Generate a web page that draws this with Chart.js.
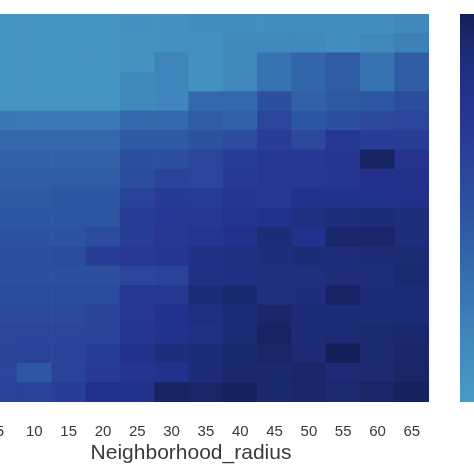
<!DOCTYPE html>
<html>
<head>
<meta charset="utf-8">
<script src="https://cdn.jsdelivr.net/npm/chart.js@4.4.1/dist/chart.umd.min.js"></script>
<style>
  html, body { margin: 0; padding: 0; background: #fff; overflow: hidden; }
  #wrap { width: 474px; height: 474px; position: relative; overflow: hidden; }
  #heat { position: absolute; left: -47px; top: 0; }
</style>
</head>
<body>
<div id="wrap"><canvas id="heat" width="521" height="474"></canvas></div>
<script>
/// data ///
const radius = [5, 10, 15, 20, 25, 30, 35, 40, 45, 50, 55, 60, 65];
const rowIds = [0, 1, 2, 3, 4, 5, 6, 7, 8, 9, 10, 11, 12, 13, 14, 15, 16, 17, 18, 19];
// one row per line, top row first, one value per radius
const values = [
  [ 5,  5,  5,  5,  8,  8, 10, 10, 10, 10, 10, 10, 15],
  [ 5,  5,  5,  5,  7,  8,  8, 15, 15, 15, 12, 16, 20],
  [ 5,  5,  5,  5,  7, 18,  8, 15, 30, 38, 44, 30, 44],
  [ 5,  5,  5,  5, 15, 18,  8, 15, 30, 38, 44, 30, 44],
  [ 5,  5,  5,  5, 15, 17, 36, 36, 52, 40, 46, 47, 54],
  [26, 25, 25, 25, 36, 36, 44, 40, 60, 48, 52, 58, 60],
  [36, 36, 36, 36, 45, 45, 50, 56, 66, 58, 72, 66, 66],
  [40, 40, 40, 40, 52, 52, 60, 67, 72, 71, 74, 96, 78],
  [44, 44, 44, 44, 56, 62, 60, 69, 73, 72, 75, 80, 80],
  [45, 45, 48, 48, 62, 69, 68, 75, 73, 81, 81, 81, 82],
  [48, 48, 48, 48, 67, 71, 72, 77, 81, 85, 88, 90, 88],
  [50, 50, 50, 56, 66, 73, 76, 80, 90, 81, 94, 94, 88],
  [52, 52, 56, 66, 70, 74, 84, 85, 88, 90, 88, 90, 91],
  [53, 53, 53, 53, 60, 62, 84, 85, 87, 87, 89, 89, 92],
  [55, 55, 55, 55, 73, 72, 90, 93, 87, 88, 96, 90, 90],
  [57, 57, 57, 61, 73, 81, 86, 90, 94, 90, 90, 90, 90],
  [60, 60, 60, 61, 75, 81, 84, 91, 96, 90, 91, 92, 93],
  [61, 62, 62, 66, 81, 88, 90, 93, 95, 91, 99, 92, 94],
  [60, 47, 62, 69, 78, 81, 90, 93, 93, 94, 91, 92, 95],
  [62, 62, 66, 81, 81, 96, 95, 98, 93, 94, 92, 95, 98]
];

/// colour map (light blue -> navy) ///
const cmap = [
  [0.00, [72, 154, 197]],
  [0.15, [65, 136, 188]],
  [0.30, [55, 114, 177]],
  [0.45, [46, 90, 164]],
  [0.60, [42, 69, 153]],
  [0.72, [38, 55, 146]],
  [0.82, [34, 48, 138]],
  [0.90, [30, 44, 119]],
  [1.00, [17, 31, 87]]
];
function colorFor(v) {
  const t = Math.max(0, Math.min(1, v / 100));
  for (let i = 1; i < cmap.length; i++) {
    if (t <= cmap[i][0]) {
      const [t0, c0] = cmap[i - 1];
      const [t1, c1] = cmap[i];
      const f = (t - t0) / (t1 - t0);
      const c = c0.map((a, k) => Math.round(a + (c1[k] - a) * f));
      return 'rgb(' + c.join(',') + ')';
    }
  }
  return 'rgb(' + cmap[cmap.length - 1][1].join(',') + ')';
}

const points = [];
values.forEach((row, r) => {
  row.forEach((v, c) => {
    points.push({ x: radius[c], y: [rowIds[r], rowIds[r] + 1], v: v });
  });
});

/// colour bar on the right ///
const colorbar = {
  id: 'colorbar',
  afterDraw(chart) {
    const { ctx, chartArea } = chart;
    const x = chartArea.right + 31;
    const g = ctx.createLinearGradient(0, chartArea.top, 0, chartArea.bottom);
    for (let i = 0; i <= 20; i++) g.addColorStop(i / 20, colorFor(100 - i * 5));
    ctx.save();
    ctx.fillStyle = g;
    ctx.fillRect(x, chartArea.top, 40, chartArea.bottom - chartArea.top);
    ctx.restore();
  }
};

const font = 'Liberation Sans, Arial, sans-serif';
const ctx = document.getElementById('heat').getContext('2d');
new Chart(ctx, {
  type: 'bar',
  data: {
    datasets: [{
      data: points,
      backgroundColor: c => colorFor(c.raw ? c.raw.v : 0),
      borderWidth: 0,
      barPercentage: 1,
      categoryPercentage: 1
    }]
  },
  options: {
    responsive: false,
    animation: false,
    layout: { padding: { top: 14, right: 45, left: 0, bottom: 0 } },
    plugins: { legend: { display: false }, tooltip: { enabled: false } },
    scales: {
      x: {
        type: 'linear',
        offset: false,
        min: -1.85,
        max: 67.5,
        grid: { display: false, drawTicks: false },
        border: { display: false },
        afterBuildTicks: s => { s.ticks = radius.map(v => ({ value: v })); },
        afterFit: s => { s.paddingLeft = 0; s.paddingRight = 0; s.height = 72; },
        ticks: {
          color: '#3a3a3a',
          font: { family: font, size: 15 },
          padding: 21,
          maxRotation: 0,
          autoSkip: false
        },
        title: {
          display: true,
          text: 'Neighborhood_radius',
          color: '#3a3a3a',
          font: { family: font, size: 21 },
          padding: { top: 0, bottom: 8 }
        }
      },
      y: { type: 'linear', min: 0, max: 20, reverse: true, display: false }
    }
  },
  plugins: [colorbar]
});
</script>
</body>
</html>
